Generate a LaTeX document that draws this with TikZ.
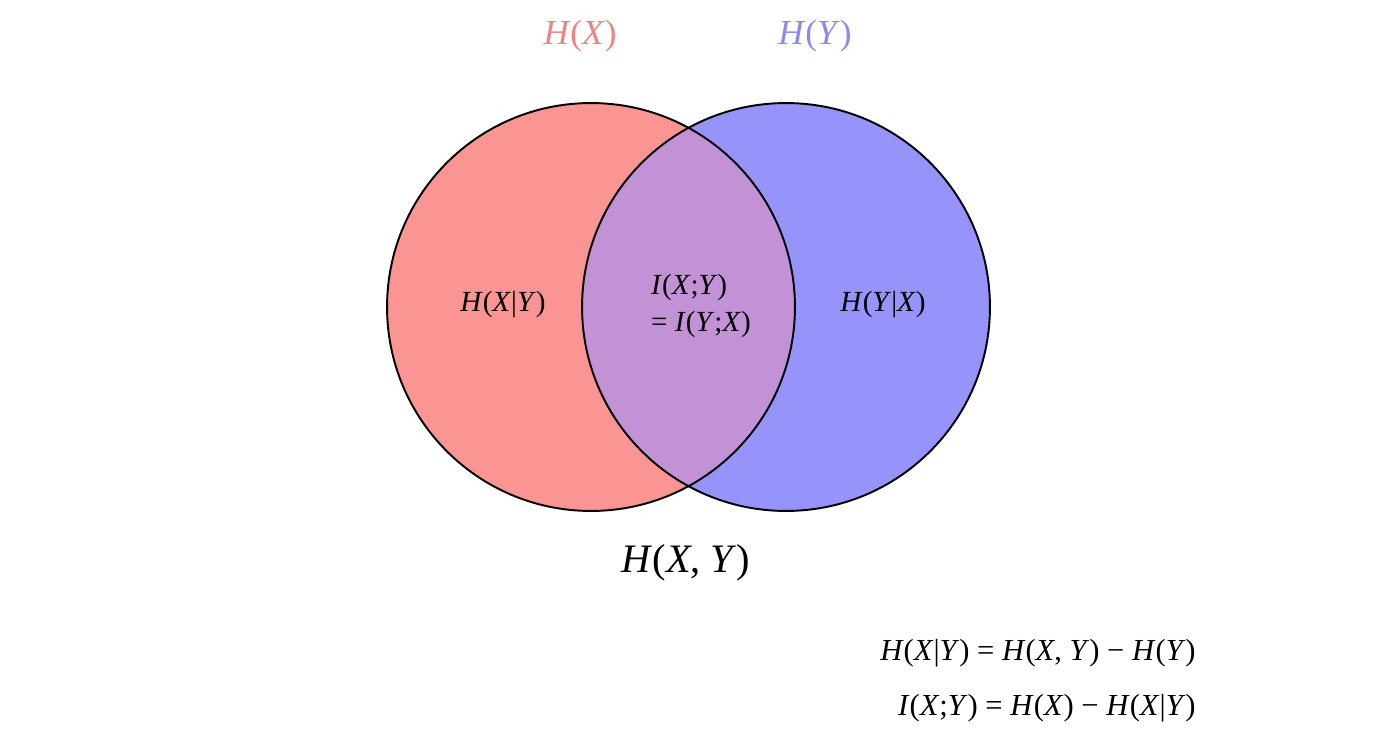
\documentclass[tikz,border=0pt]{standalone}
\usepackage{fontspec}
\setmainfont{Liberation Serif}
\definecolor{hxred}{RGB}{250, 149, 147}
\definecolor{hyblue}{RGB}{150, 148, 250}
\definecolor{mixpurple}{RGB}{195, 146, 214}
\definecolor{hxtext}{RGB}{236, 132, 132}
\definecolor{hytext}{RGB}{138, 138, 232}
\usepackage{tikz}

\begin{document}
\begin{tikzpicture}[
  x=0.02cm, y=-0.02cm,
  setcircle/.style={circle, draw=black, line width=1.1pt, minimum size=8.16cm, inner sep=0pt},
  lbl/.style={font=\fontsize{16.6}{21}\selectfont},
  eqn/.style={font=\fontsize{17.4}{21}\selectfont, anchor=east, inner sep=0pt},
]
\useasboundingbox (0,0) rectangle (1400,740);
\coordinate (cx) at (591, 307);
\coordinate (cy) at (786, 307);

% Filled sets and their overlap
\fill[hxred] (cx) circle (4.08cm);
\fill[hyblue] (cy) circle (4.08cm);
\begin{scope}
  \clip (cx) circle (4.08cm);
  \fill[mixpurple] (cy) circle (4.08cm);
\end{scope}
\node[setcircle] (setx) at (cx) {};
\node[setcircle] (sety) at (cy) {};

% Set titles
\node[font=\fontsize{20}{24}\selectfont, text=hxtext] (hx) at (580, 36) {\textit{H}(\textit{X})};
\node[font=\fontsize{20}{24}\selectfont, text=hytext] (hy) at (815, 36) {\textit{H}(\textit{Y})};

% Region labels
\node[lbl] (hxgy) at (503, 305) {\textit{H}(\textit{X}|\textit{Y})};
\node[lbl] (hygx) at (883, 305) {\textit{H}(\textit{Y}|\textit{X})};
\node[lbl, align=left, anchor=west] (ixy) at (645, 306) {\textit{I}(\textit{X};\textit{Y})\\ = \textit{I}(\textit{Y};\textit{X})};

% Joint entropy
\node[font=\fontsize{23}{28}\selectfont] (hxy) at (686, 563) {\textit{H}(\textit{X}, \textit{Y})};

% Identities
\node[eqn] (eq1) at (1196, 653) {\textit{H}(\textit{X}|\textit{Y}) = \textit{H}(\textit{X}, \textit{Y}) − \textit{H}(\textit{Y})};
\node[eqn] (eq2) at (1196, 708) {\textit{I}(\textit{X};\textit{Y}) = \textit{H}(\textit{X}) − \textit{H}(\textit{X}|\textit{Y})};
\end{tikzpicture}
\end{document}
